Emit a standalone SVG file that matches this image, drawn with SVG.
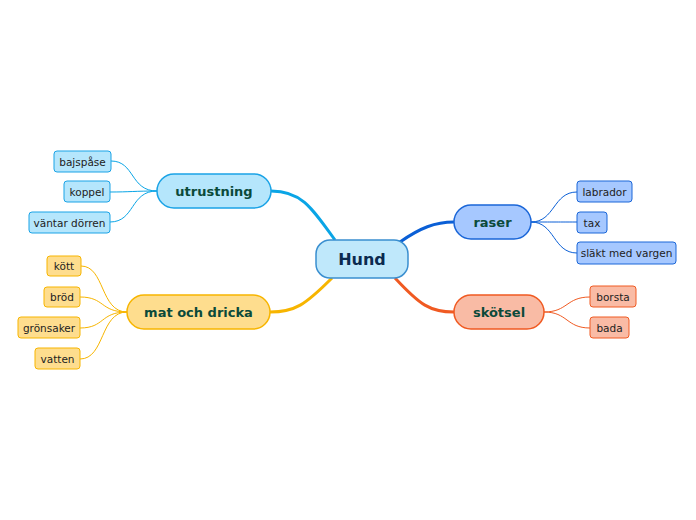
<svg xmlns="http://www.w3.org/2000/svg" width="696" height="520" viewBox="0 0 696 520">
<style>
text{font-family:"DejaVu Sans",Verdana,sans-serif;text-anchor:middle;dominant-baseline:central}
.leaf{font-size:10.5px;fill:#222}
.br{font-size:13px;font-weight:bold;fill:#0b4a3a}
.c{fill:none}
.b{stroke:#0aa5e6}.y{stroke:#f7b500}.d{stroke:#0a5fd6}.o{stroke:#f05a22}
.nb{fill:#b5e6fc;stroke:#1aa3e6}.ny{fill:#fedd8e;stroke:#f7b500}.nd{fill:#a6c8ff;stroke:#1a66d8}.no{fill:#f9bba5;stroke:#f05a22}
</style>
<rect width="696" height="520" fill="#fff"/>
<g id="connectors" class="c">
<path class="b" stroke-width="3" d="M335,240 C310,205 300,191 271,191"/>
<path class="y" stroke-width="3" d="M332,278 C305,305 295,312 270,312"/>
<path class="d" stroke-width="3" d="M400,242 C420,228 435,222 454,222"/>
<path class="o" stroke-width="3" d="M395,278 C420,305 430,312 454,312"/>
<g stroke-width="1">
<path class="b" d="M157,191 C130,191 135,161 111,161"/>
<path class="b" d="M157,191 C135,191 130,192 110,192"/>
<path class="b" d="M157,191 C130,191 135,222 110,222"/>
<path class="y" d="M127,312 C100,312 105,266 81,266"/>
<path class="y" d="M127,312 C100,312 105,297 80,297"/>
<path class="y" d="M127,312 C100,312 105,328 80,328"/>
<path class="y" d="M127,312 C100,312 105,359 80,359"/>
<path class="d" d="M531,222 C555,222 553,192 577,192"/>
<path class="d" d="M531,222 C555,222 553,222 577,222"/>
<path class="d" d="M531,222 C555,222 553,253 577,253"/>
<path class="o" d="M544,312 C568,312 566,297 590,297"/>
<path class="o" d="M544,312 C568,312 566,328 590,328"/>
</g>
</g>
<g id="hund"><rect x="316" y="240" width="92" height="38" rx="14" fill="#bfe8fb" stroke="#3a8fd0" stroke-width="1.5"/><text x="362" y="259" font-size="16" font-weight="bold" fill="#0b2a4f">Hund</text></g>
<g id="utrustning"><rect class="nb" x="157" y="174" width="114" height="34" rx="17" stroke-width="1.5"/><text class="br" x="214" y="191">utrustning</text></g>
<g id="mat"><rect class="ny" x="127" y="295" width="143" height="34" rx="17" stroke-width="1.5"/><text class="br" x="198.5" y="312">mat och dricka</text></g>
<g id="raser"><rect class="nd" x="454" y="205" width="77" height="34" rx="17" stroke-width="1.5"/><text class="br" x="492.5" y="222">raser</text></g>
<g id="skotsel"><rect class="no" x="454" y="295" width="90" height="34" rx="17" stroke-width="1.5"/><text class="br" x="499" y="312">skötsel</text></g>
<g id="bajspase"><rect class="nb" x="54" y="151" width="57" height="21" rx="3"/><text class="leaf" x="82.5" y="161.5">bajspåse</text></g>
<g id="koppel"><rect class="nb" x="64" y="181" width="46" height="21" rx="3"/><text class="leaf" x="87" y="191.5">koppel</text></g>
<g id="vantar"><rect class="nb" x="29" y="212" width="81" height="21" rx="3"/><text class="leaf" x="69.5" y="222.5">väntar dörren</text></g>
<g id="kott"><rect class="ny" x="47" y="256" width="34" height="20" rx="3"/><text class="leaf" x="64" y="266">kött</text></g>
<g id="brod"><rect class="ny" x="44" y="287" width="36" height="20" rx="3"/><text class="leaf" x="62" y="297">bröd</text></g>
<g id="gronsaker"><rect class="ny" x="18" y="317" width="62" height="21" rx="3"/><text class="leaf" x="49" y="327.5">grönsaker</text></g>
<g id="vatten"><rect class="ny" x="35" y="348" width="45" height="21" rx="3"/><text class="leaf" x="57.5" y="358.5">vatten</text></g>
<g id="labrador"><rect class="nd" x="577" y="181" width="55" height="21" rx="3"/><text class="leaf" x="604.5" y="191.5">labrador</text></g>
<g id="tax"><rect class="nd" x="577" y="212" width="30" height="21" rx="3"/><text class="leaf" x="592" y="222.5">tax</text></g>
<g id="slakt"><rect class="nd" x="577" y="242" width="99" height="22" rx="3"/><text class="leaf" x="626.5" y="253">släkt med vargen</text></g>
<g id="borsta"><rect class="no" x="590" y="286" width="46" height="21" rx="3"/><text class="leaf" x="613" y="296.5">borsta</text></g>
<g id="bada"><rect class="no" x="590" y="317" width="39" height="21" rx="3"/><text class="leaf" x="609.5" y="327.5">bada</text></g>
</svg>
